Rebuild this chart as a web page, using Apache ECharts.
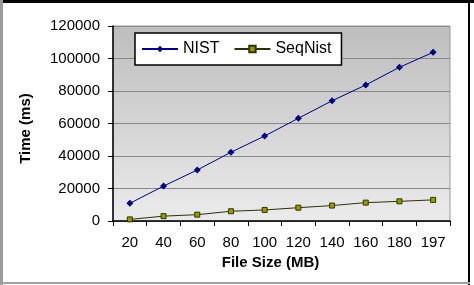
<!DOCTYPE html>
<html><head><meta charset="utf-8">
<script src="https://cdn.jsdelivr.net/npm/echarts@6/dist/echarts.min.js"></script>
<style>html,body{margin:0;padding:0;background:#fff}#c{width:474px;height:285px}</style>
</head><body><div id="c"></div>
<script>
var categories = ['20','40','60','80','100','120','140','160','180','197'];
var nist = [10900, 21500, 31400, 42300, 52300, 63200, 74000, 83700, 94600, 103800];
var seqNist = [1000, 3000, 3900, 6000, 6800, 8200, 9500, 11300, 12100, 13000];
var yTicks = [0, 20000, 40000, 60000, 80000, 100000, 120000];

var chart = echarts.init(document.getElementById('c'), null, {renderer:'canvas'});
var font = 'Liberation Sans, Arial, sans-serif';
chart.setOption({
  animation: false,
  backgroundColor: '#fff',
  graphic: [
    {type:'rect', shape:{x:0,y:0,width:474,height:3}, style:{fill:'#000'}},
    {type:'rect', shape:{x:0,y:0,width:3,height:285}, style:{fill:'#9a9a9a'}},
    {type:'rect', shape:{x:468,y:0,width:2,height:285}, style:{fill:'#000'}},
    {type:'rect', shape:{x:0,y:282,width:470,height:2}, style:{fill:'#a0a0a0'}}
  ],
  grid: {
    left: 113, top: 26, right: 24, bottom: 64,
    show: true,
    borderColor: '#9a9a9a', borderWidth: 1,
    backgroundColor: {type:'linear', x:0, y:0, x2:0, y2:1,
      colorStops:[{offset:0,color:'#bdbdbd'},{offset:1,color:'#ebebeb'}]}
  },
  legend: {
    left: 135, top: 33,
    backgroundColor: '#fff', borderColor: '#000', borderWidth: 1.5,
    padding: [8, 10, 8, 6],
    itemWidth: 36, itemHeight: 8, itemGap: 14,
    textStyle: {fontFamily: font, fontSize: 16, color: '#000'},
    data: ['NIST', 'SeqNist']
  },
  xAxis: {
    type: 'category', data: categories, boundaryGap: true,
    name: 'File Size (MB)', nameLocation: 'middle', nameGap: 31,
    nameTextStyle: {fontFamily: font, fontSize: 15, fontWeight: 'bold', color: '#000', padding: [0, 22, 0, 0]},
    axisLine: {lineStyle: {color: '#000', width: 1.5}},
    axisTick: {show: true, length: 5, lineStyle: {color: '#000'}},
    axisLabel: {fontFamily: font, fontSize: 15, color: '#000', margin: 14, interval: 0},
    splitLine: {show: false}
  },
  yAxis: {
    type: 'value', min: 0, max: 120000, interval: 20000,
    name: 'Time (ms)', nameLocation: 'middle', nameGap: 80,
    nameTextStyle: {fontFamily: font, fontSize: 15, fontWeight: 'bold', color: '#000', padding: [0, 10, 0, 0]},
    axisLine: {show: true, lineStyle: {color: '#000', width: 1.5}},
    axisTick: {show: true, length: 5, lineStyle: {color: '#000'}},
    axisLabel: {fontFamily: font, fontSize: 15, color: '#000', margin: 13,
      formatter: function(v){ return yTicks.indexOf(v) >= 0 ? String(v) : ''; }},
    splitLine: {lineStyle: {color: '#888', width: 1}}
  },
  series: [
    {name: 'NIST', type: 'line', data: nist, symbol: 'diamond', symbolSize: 7,
     lineStyle: {color: '#000080', width: 1}, itemStyle: {color: '#000080'}},
    {name: 'SeqNist', type: 'line', data: seqNist, symbol: 'rect', symbolSize: 5,
     lineStyle: {color: '#2e2e10', width: 1},
     itemStyle: {color: '#9a9a00', borderColor: '#333300', borderWidth: 1}}
  ]
});
</script></body></html>
